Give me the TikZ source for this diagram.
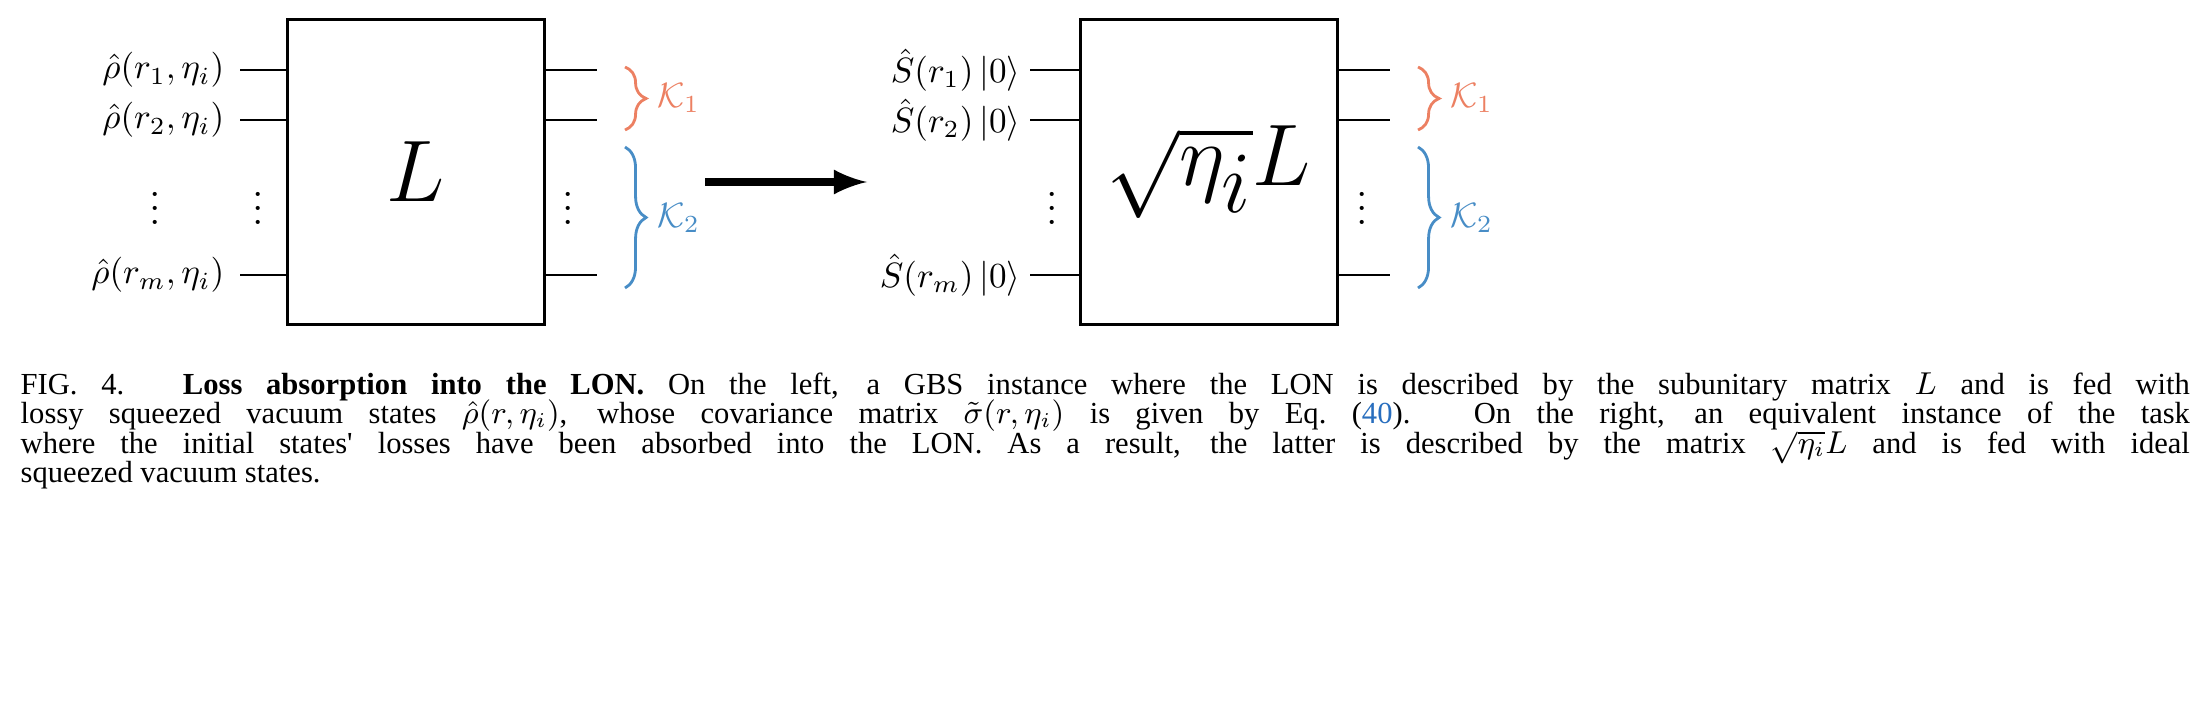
\documentclass[tikz,border=0pt]{standalone}
\usepackage{amssymb}
\usepackage{fontspec}
\newfontfamily\capfont{Liberation Serif}
\usetikzlibrary{decorations.pathreplacing}
\definecolor{kone}{RGB}{236,128,98}
\definecolor{ktwo}{RGB}{72,141,198}
\definecolor{linkblue}{RGB}{40,110,190}
\begin{document}
\begin{tikzpicture}[x=0.01cm, y=-0.01cm, box/.style = {draw, thick, minimum width=2.57cm, minimum height=3.05cm}, wire/.style = {thick}, lab/.style = {anchor=east, inner sep=0pt}, dots/.style = {font=\large}, kbrace/.style = {thick, decorate, decoration={brace, amplitude=6pt}}]
    \useasboundingbox (0,0) rectangle (2204,700);
    % left instance
    \node[box] (1) at (416,172) {\fontsize{34}{40}\selectfont $L$};
    \foreach \y/\t in {70/1, 120/2, 275/m} {
        \coordinate (a\t) at (240,\y);
        \coordinate (b\t) at (597,\y);
        \draw[wire] (a\t) -- (a\t -| 1.west);
        \draw[wire] (b\t -| 1.east) -- (b\t);
        \node[lab] (la\t) at (225,\y) {$\hat\rho(r_\t,\eta_i)$};
    }
    \node[dots] (d1) at (155,198) {$\vdots$};
    \node[dots] (d2) at (258,198) {$\vdots$};
    \node[dots] (d3) at (568,198) {$\vdots$};
    \coordinate (k1t) at (625,67); \coordinate (k1b) at (625,130);
    \coordinate (k2t) at (625,147); \coordinate (k2b) at (625,288);
    \draw[kbrace, kone] (k1t) -- (k1b);
    \draw[kbrace, ktwo] (k2t) -- (k2b);
    \node[kone, anchor=west] (K1) at (645,98) {$\mathcal{K}_1$};
    \node[ktwo, anchor=west] (K2) at (645,218) {$\mathcal{K}_2$};
    % arrow
    \coordinate (p) at (705,182);
    \coordinate (q) at (867,182);
    \draw[line width=2.2pt, -latex] (p) -- (q);
    % right instance
    \node[box] (2) at (1209,172) {\fontsize{34}{40}\selectfont $\sqrt{\eta_i}L$};
    \foreach \y/\t in {70/1, 120/2, 275/m} {
        \coordinate (c\t) at (1030,\y);
        \coordinate (e\t) at (1390,\y);
        \draw[wire] (c\t) -- (c\t -| 2.west);
        \draw[wire] (e\t -| 2.east) -- (e\t);
        \node[lab] (lc\t) at (1021,\y) {$\hat S(r_\t)\,|0\rangle$};
    }
    \node[dots] (d4) at (1052,198) {$\vdots$};
    \node[dots] (d5) at (1362,198) {$\vdots$};
    \coordinate (k3t) at (1418,67); \coordinate (k3b) at (1418,130);
    \coordinate (k4t) at (1418,147); \coordinate (k4b) at (1418,288);
    \draw[kbrace, kone] (k3t) -- (k3b);
    \draw[kbrace, ktwo] (k4t) -- (k4b);
    \node[kone, anchor=west] (K3) at (1438,98) {$\mathcal{K}_1$};
    \node[ktwo, anchor=west] (K4) at (1438,218) {$\mathcal{K}_2$};
    % caption
    \node[anchor=north west, inner sep=0pt, text width=21.68cm, align=justify] (cap) at (20,372) {\capfont\fontsize{8.7}{8.4}\selectfont\lineskiplimit=-20pt
        FIG. 4. \textbf{Loss absorption into the LON.} On the left, a GBS instance where the LON is described by the subunitary matrix $L$ and is fed with\linebreak
        lossy squeezed vacuum states $\hat\rho(r,\eta_i)$, whose covariance matrix $\tilde\sigma(r,\eta_i)$ is given by Eq.~(\textcolor{linkblue}{40}). On the right, an equivalent instance of the task\linebreak
        where the initial states' losses have been absorbed into the LON. As a result, the latter is described by the matrix $\sqrt{\eta_i}L$ and is fed with ideal\linebreak
        squeezed vacuum states.\par};
\end{tikzpicture}
\end{document}
